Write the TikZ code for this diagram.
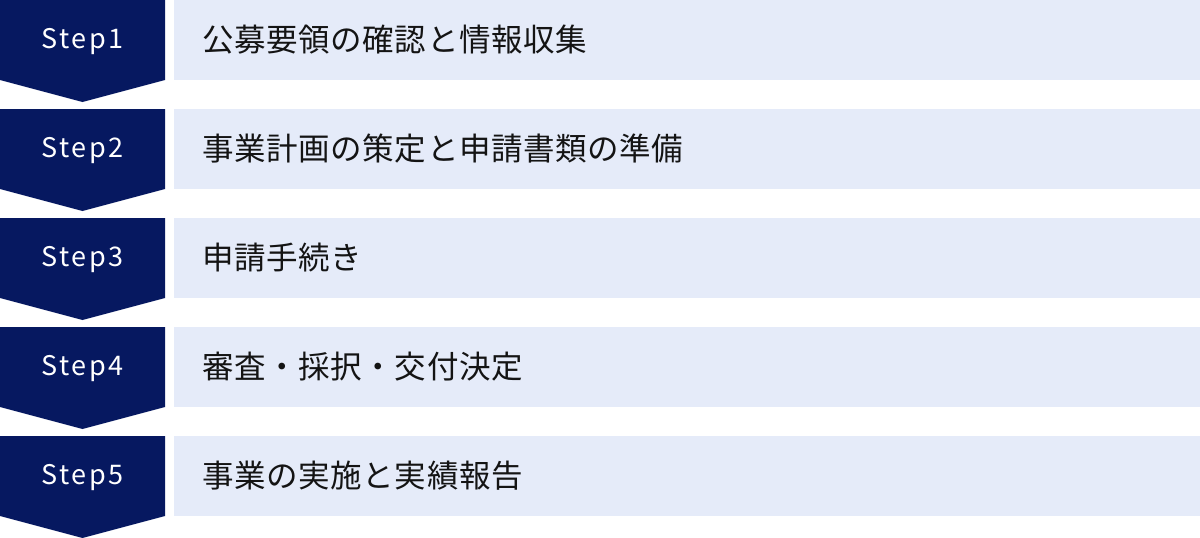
\documentclass[tikz,border=0pt]{standalone}
\usepackage{fontspec}
\newfontfamily\jpfont[LetterSpace=2]{Noto Sans CJK JP}
\newfontfamily\stepfont[LetterSpace=10]{Noto Sans CJK JP}
\definecolor{navy}{RGB}{6,24,96}
\definecolor{pale}{RGB}{229,235,249}
\definecolor{ink}{RGB}{20,20,20}
\tikzset{
  stepbox/.style={fill=navy,draw=none},
  bar/.style={fill=pale,draw=none},
  steplabel/.style={text=white,font=\stepfont\fontsize{27}{30}\selectfont,anchor=center,inner sep=0},
  desc/.style={text=ink,font=\jpfont\fontsize{31.5}{36}\selectfont,anchor=west,inner sep=0},
}
\begin{document}
\begin{tikzpicture}[x=1pt,y=-1pt]
\useasboundingbox (0,0) rectangle (1200,538);
\foreach \i/\t in {0/公募要領の確認と情報収集,1/事業計画の策定と申請書類の準備,2/申請手続き,3/審査・採択・交付決定,4/事業の実施と実績報告}{
  \pgfmathsetmacro{\y}{\i*109}
  \pgfmathtruncatemacro{\n}{\i+1}
  \fill[stepbox] (0,\y) -- (165,\y) -- (165,\y+80) -- (82.5,\y+102) -- (0,\y+80) -- cycle;
  \fill[bar] (174,\y) rectangle (1200,\y+80);
  \node[steplabel] (s\n) at (82.5,\y+42) {Step\n};
  \node[desc] (d\n) at (202,\y+40) {\t};
}
\end{tikzpicture}
\end{document}
